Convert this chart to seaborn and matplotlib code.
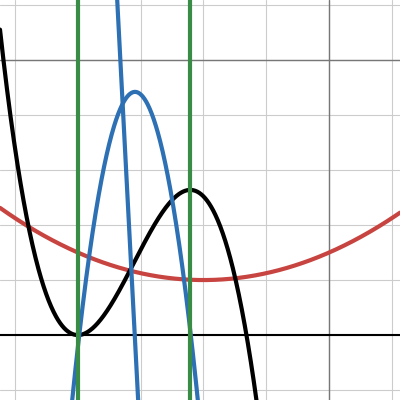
import numpy as np
import matplotlib
matplotlib.use("Agg")
import matplotlib.pyplot as plt
import seaborn as sns

# curve parameters (grid units)
cubic_a, cubic_r2, cubic_r1 = -0.92, -4.0, -1.315
para_a, para_h, para_k = -5.6, -3.09, 4.42
red_a, red_h, red_k = 0.125, -2.0, 1.0
line_slope, line_x0, line_y0 = -21.8, -3.04, -1.18
green_x = [-4.0, -2.21]

xmin, xmax, ymin, ymax = -5.24, 1.13, -1.18, 6.09
xs = np.linspace(xmin, xmax, 800)

sns.set_style("white")
fig, ax = plt.subplots(figsize=(4, 4), dpi=100)
fig.subplots_adjust(0, 0, 1, 1)

for gx in range(-5, 2):
    ax.axvline(gx, color="#cccccc", lw=0.8, zorder=0)
for gy in range(-1, 7):
    ax.axhline(gy, color="#cccccc", lw=0.8, zorder=0)
ax.axhline(5, color="#777777", lw=1, zorder=0)
ax.axvline(0, color="#777777", lw=1, zorder=0)
ax.axhline(0, color="black", lw=1.5, zorder=1)

c = "#2d70b3"
sns.lineplot(x=xs, y=red_a * (xs - red_h) ** 2 + red_k, color="#c74440", lw=3, ax=ax)
sns.lineplot(x=xs, y=cubic_a * (xs - cubic_r2) ** 2 * (xs - cubic_r1), color="black", lw=3, ax=ax)
sns.lineplot(x=xs, y=para_a * (xs - para_h) ** 2 + para_k, color=c, lw=3, ax=ax)
sns.lineplot(x=xs, y=line_slope * (xs - line_x0) + line_y0, color=c, lw=3, ax=ax)
for gx in green_x:
    ax.axvline(gx, color="#388c46", lw=3)

ax.set_xlim(xmin, xmax)
ax.set_ylim(ymin, ymax)
ax.set_xticks([])
ax.set_yticks([])
for s in ax.spines.values():
    s.set_visible(False)
fig.savefig("out.png", dpi=100)
